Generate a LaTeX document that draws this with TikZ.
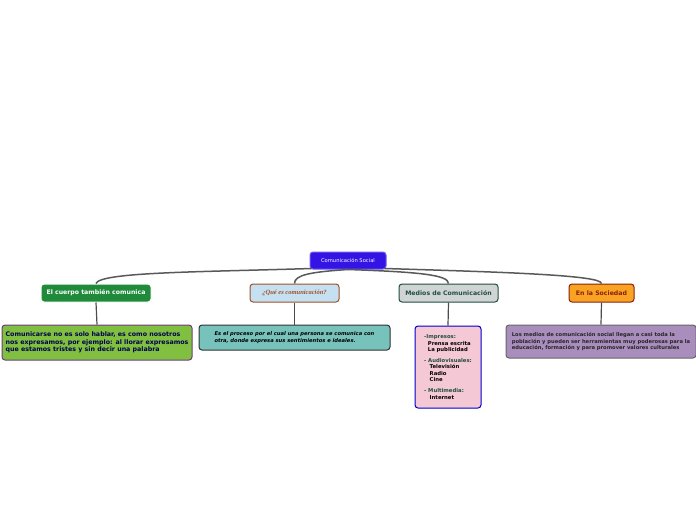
\documentclass[tikz,border=0pt]{standalone}
\usepackage{fontspec}
\setmainfont{DejaVu Sans}
\newfontfamily\serifq{Liberation Serif}
\begin{document}
\begin{tikzpicture}[x=1pt,y=-1pt,
  box/.style={draw,rounded corners=3pt,line width=1pt,inner sep=0pt,font=\fontsize{5.6}{6.5}\selectfont\bfseries},
  link/.style={draw=black!65,line width=1.5pt},
  stem/.style={draw=black!70,line width=1.2pt}]
\useasboundingbox (0,0) rectangle (696,520);
\definecolor{rootc}{RGB}{52,20,228}
\definecolor{gr}{RGB}{30,138,58}
\definecolor{lb}{RGB}{197,224,240}
\definecolor{brn}{RGB}{160,80,40}
\definecolor{gy}{RGB}{208,212,212}
\definecolor{dg}{RGB}{30,80,60}
\definecolor{org}{RGB}{248,164,34}
\definecolor{drd}{RGB}{140,30,20}
\definecolor{lime}{RGB}{128,191,64}
\definecolor{pur}{RGB}{110,60,130}
\definecolor{tl}{RGB}{120,194,188}
\definecolor{pk}{RGB}{244,200,212}
\definecolor{vio}{RGB}{169,141,189}
\node[box,fill=rootc,draw=rootc!70!white,text=white,minimum width=76,minimum height=17,font=\fontsize{5.2}{6}\selectfont] (root) at (348,260.5) {Comunicación Social};
\node[box,fill=gr,draw=white,text=white,minimum width=110,minimum height=18,font=\fontsize{6.2}{7}\selectfont\bfseries] (a) at (96,293) {El cuerpo también comunica};
\node[box,fill=lb,draw=brn,text=brn,minimum width=89,minimum height=18,font=\serifq\fontsize{6.5}{7}\selectfont\bfseries\itshape] (b) at (294.5,293) {¿Qué es comunicación?};
\node[box,fill=gy,draw=dg,text=dg,minimum width=99,minimum height=18,font=\fontsize{6.2}{7}\selectfont\bfseries] (c) at (448.5,293) {Medios de Comunicación};
\node[box,fill=org,draw=drd,text=drd,minimum width=65,minimum height=18,font=\fontsize{6.2}{7}\selectfont\bfseries] (d) at (601.5,293) {En la Sociedad};
\node[box,fill=lime,draw=pur,text=blue!30!black,minimum width=190,minimum height=35,align=left,font=\fontsize{6.3}{7.6}\selectfont\bfseries] (a2) at (97,342.5) {Comunicarse no es solo hablar, es como nosotros\\nos expresamos, por ejemplo: al llorar expresamos\\que estamos tristes y sin decir una palabra};
\node[box,fill=tl,draw=black!80,minimum width=191,minimum height=25,align=left,font=\fontsize{5.2}{6.6}\selectfont\bfseries\itshape] (b2) at (294.5,337.5) {Es el proceso por el cual una persona se comunica con\\otra, donde expresa sus sentimientos e ideales.};
\node[box,fill=pk,draw=blue!80!black,minimum width=66,minimum height=82,align=left,font=\fontsize{5.3}{6.3}\selectfont\bfseries] (c2) at (448,367) {\textcolor{dg}{-Impresos:}\\\ \ Prensa escrita\\\ \ La publicidad\\[5pt]\textcolor{dg}{- Audiovisuales:}\\\ \ \ Televisión\\\ \ \ Radio\\\ \ \ Cine\\[5pt]\textcolor{dg}{- Multimedia:}\\\ \ \ Internet};
\node[box,fill=vio,draw=black!60,text=black!85,minimum width=190,minimum height=33,align=left,font=\fontsize{5.2}{6.6}\selectfont\bfseries] (d2) at (601,341.5) {Los medios de comunicación social llegan a casi toda la\\población y pueden ser herramientas muy poderosas para la\\educación, formación y para promover valores culturales};
\draw[link] (root.south west) ++(2,-1) .. controls (200,272) and (100,272) .. (a.north);
\draw[link] (root.south) .. controls (310,272) and (294.5,275) .. (b.north);
\draw[link] (root.south) .. controls (420,272) and (448.5,275) .. (c.north);
\draw[link] (root.south east) ++(-2,-1) .. controls (500,272) and (601.5,275) .. (d.north);
\draw[stem] (a.south) -- (a2.north);
\draw[stem] (b.south) -- (b2.north);
\draw[stem] (c.south) -- (c2.north);
\draw[stem] (d.south) -- (d2.north);
\end{tikzpicture}
\end{document}
